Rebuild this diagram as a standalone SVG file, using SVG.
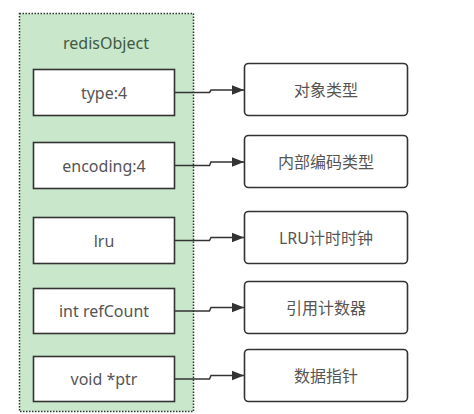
<svg xmlns="http://www.w3.org/2000/svg" width="474" height="414" viewBox="0 0 474 414">
<defs>
<style>
.lbox{fill:#fff;stroke:#333;stroke-width:1.6}
.rbox{fill:#fff;stroke:#333;stroke-width:1.6}
.t{font-family:"Noto Sans","Noto Sans CJK SC",sans-serif;font-size:16px;fill:#555;text-anchor:middle;dominant-baseline:central}
.edge{fill:none;stroke:#333;stroke-width:1.5}
</style>
<marker id="ah" viewBox="0 0 10 10" refX="10" refY="5" markerWidth="12" markerHeight="12" markerUnits="userSpaceOnUse" orient="auto">
<path d="M0,1 L10,5 L0,9 Z" fill="#333"/>
</marker>
</defs>
<rect width="474" height="414" fill="#fff"/>
<g id="redisObject">
<rect x="19.5" y="13.5" width="174" height="398" fill="#c9e7cb" stroke="#333" stroke-width="1.5" stroke-dasharray="1.5 1.5"/>
<text x="106" y="43" class="t" style="fill:#3f5a42">redisObject</text>
</g>
<g id="type">
<rect class="lbox" x="33.5" y="69.5" width="141" height="46"/>
<text x="104" y="92.5" class="t">type:4</text>
</g>
<g id="encoding">
<rect class="lbox" x="33.5" y="142.5" width="141" height="46"/>
<text x="104" y="165.5" class="t">encoding:4</text>
</g>
<g id="lru">
<rect class="lbox" x="33.5" y="217.5" width="141" height="46"/>
<text x="104" y="240.5" class="t">lru</text>
</g>
<g id="refCount">
<rect class="lbox" x="33.5" y="288.5" width="141" height="45"/>
<text x="104" y="311" class="t">int refCount</text>
</g>
<g id="ptr">
<rect class="lbox" x="33.5" y="356.5" width="141" height="45"/>
<text x="104" y="379" class="t">void *ptr</text>
</g>
<g id="d_type">
<rect class="rbox" x="244.5" y="63.5" width="163" height="52" rx="4"/>
<text x="326" y="89.5" class="t">对象类型</text>
</g>
<g id="d_encoding">
<rect class="rbox" x="244.5" y="135.5" width="163" height="52" rx="4"/>
<text x="326" y="161.5" class="t">内部编码类型</text>
</g>
<g id="d_lru">
<rect class="rbox" x="244.5" y="211.5" width="163" height="52" rx="4"/>
<text x="326" y="237.5" class="t">LRU计时时钟</text>
</g>
<g id="d_refCount">
<rect class="rbox" x="244.5" y="281.5" width="163" height="52" rx="4"/>
<text x="326" y="307.5" class="t">引用计数器</text>
</g>
<g id="d_ptr">
<rect class="rbox" x="244.5" y="349.5" width="163" height="52" rx="4"/>
<text x="326" y="375.5" class="t">数据指针</text>
</g>
<g id="connectors">
<path class="edge" d="M174.5,92.5 H209.5 L211,90 H244" marker-end="url(#ah)"/>
<path class="edge" d="M174.5,165.5 H209.5 L211,162 H244" marker-end="url(#ah)"/>
<path class="edge" d="M174.5,240.5 H209.5 L211,237.5 H244" marker-end="url(#ah)"/>
<path class="edge" d="M174.5,311 H209.5 L211,307.5 H244" marker-end="url(#ah)"/>
<path class="edge" d="M174.5,379 H209.5 L211,375.5 H244" marker-end="url(#ah)"/>
</g>
</svg>
